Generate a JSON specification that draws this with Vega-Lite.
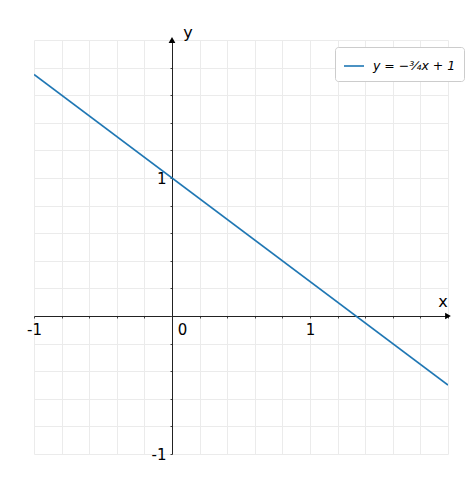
{
  "$schema": "https://vega.github.io/schema/vega-lite/v6.json",
  "width": 414,
  "height": 414,
  "autosize": {"type": "none"},
  "padding": {"left": 34, "top": 40, "right": 26, "bottom": 34},
  "config": {
    "view": {"stroke": null},
    "font": "DejaVu Sans"
  },
  "layer": [
    {
      "data": {
        "values": [
          {"x": -1, "y": 1.75, "series": "y = −¾x + 1"},
          {"x": 2, "y": -0.5, "series": "y = −¾x + 1"}
        ]
      },
      "mark": {"type": "line", "strokeWidth": 1.6, "clip": true},
      "encoding": {
        "x": {
          "field": "x",
          "type": "quantitative",
          "scale": {"domain": [-1, 2], "nice": false, "zero": false},
          "axis": {
            "orient": "bottom",
            "values": [-1, -0.8, -0.6, -0.4, -0.2, 0, 0.2, 0.4, 0.6, 0.8, 1, 1.2, 1.4, 1.6, 1.8, 2],
            "grid": true,
            "gridColor": "#ebebeb",
            "labels": false,
            "ticks": false,
            "domain": false,
            "title": null
          }
        },
        "y": {
          "field": "y",
          "type": "quantitative",
          "scale": {"domain": [-1, 2], "nice": false, "zero": false},
          "axis": {
            "orient": "left",
            "values": [-1, -0.8, -0.6, -0.4, -0.2, 0, 0.2, 0.4, 0.6, 0.8, 1, 1.2, 1.4, 1.6, 1.8, 2],
            "grid": true,
            "gridColor": "#ebebeb",
            "labels": false,
            "ticks": false,
            "domain": false,
            "title": null
          }
        },
        "color": {
          "field": "series",
          "type": "nominal",
          "scale": {"range": ["#1f77b4"]},
          "legend": {
            "title": null,
            "orient": "none",
            "legendX": 301,
            "legendY": 7,
            "fillColor": "white",
            "strokeColor": "#cccccc",
            "cornerRadius": 3,
            "padding": 8,
            "symbolType": "stroke",
            "symbolStrokeWidth": 1.6,
            "symbolSize": 400,
            "labelFontSize": 12.5,
            "labelFontStyle": "italic",
            "labelColor": "black",
            "labelFont": "DejaVu Sans",
            "labelOffset": 8
          }
        }
      }
    },
    {
      "data": {
        "values": [
          {"x": 2, "y": 0, "shape": "triangle-right"},
          {"x": 0, "y": 2, "shape": "triangle-up"}
        ]
      },
      "mark": {"type": "point", "filled": true, "color": "black", "size": 45, "opacity": 1},
      "encoding": {
        "x": {
          "field": "x",
          "type": "quantitative",
          "axis": {
            "orient": "bottom",
            "offset": -138,
            "values": [-1, -0.8, -0.6, -0.4, -0.2, 0, 0.2, 0.4, 0.6, 0.8, 1, 1.2, 1.4, 1.6, 1.8, 2],
            "labelExpr": "datum.value == -1 ? '-1' : datum.value == 0 ? '0' : datum.value == 1 ? '1' : ''",
            "labelOffset": {"condition": {"test": "datum.value == 0", "value": 10}, "value": 0},
            "labelFontSize": 15,
            "labelColor": "black",
            "labelPadding": 4,
            "labelFlush": false,
            "labelOverlap": false,
            "grid": false,
            "domainColor": "#222222",
            "domainWidth": 1,
            "tickColor": "#444444",
            "tickSize": 2,
            "title": null
          }
        },
        "y": {
          "field": "y",
          "type": "quantitative",
          "axis": {
            "orient": "left",
            "offset": -138,
            "values": [-1, -0.8, -0.6, -0.4, -0.2, 0, 0.2, 0.4, 0.6, 0.8, 1, 1.2, 1.4, 1.6, 1.8, 2],
            "labelExpr": "datum.value == -1 ? '-1' : datum.value == 1 ? '1' : ''",
            "labelFontSize": 15,
            "labelColor": "black",
            "labelPadding": 4,
            "labelFlush": false,
            "labelOverlap": false,
            "grid": false,
            "domainColor": "#222222",
            "domainWidth": 1,
            "tickColor": "#444444",
            "tickSize": 2,
            "title": null
          }
        },
        "shape": {"field": "shape", "type": "nominal", "scale": null}
      }
    },
    {
      "data": {"values": [{"x": 2, "y": 0, "t": "x"}]},
      "mark": {"type": "text", "fontSize": 16, "dx": -5, "dy": -14, "color": "black"},
      "encoding": {
        "x": {"field": "x", "type": "quantitative", "axis": null},
        "y": {"field": "y", "type": "quantitative", "axis": null},
        "text": {"field": "t"}
      }
    },
    {
      "data": {"values": [{"x": 0, "y": 2, "t": "y"}]},
      "mark": {"type": "text", "fontSize": 16, "dx": 16, "dy": -7, "color": "black"},
      "encoding": {
        "x": {"field": "x", "type": "quantitative", "axis": null},
        "y": {"field": "y", "type": "quantitative", "axis": null},
        "text": {"field": "t"}
      }
    }
  ],
  "resolve": {"axis": {"x": "independent", "y": "independent"}}
}
